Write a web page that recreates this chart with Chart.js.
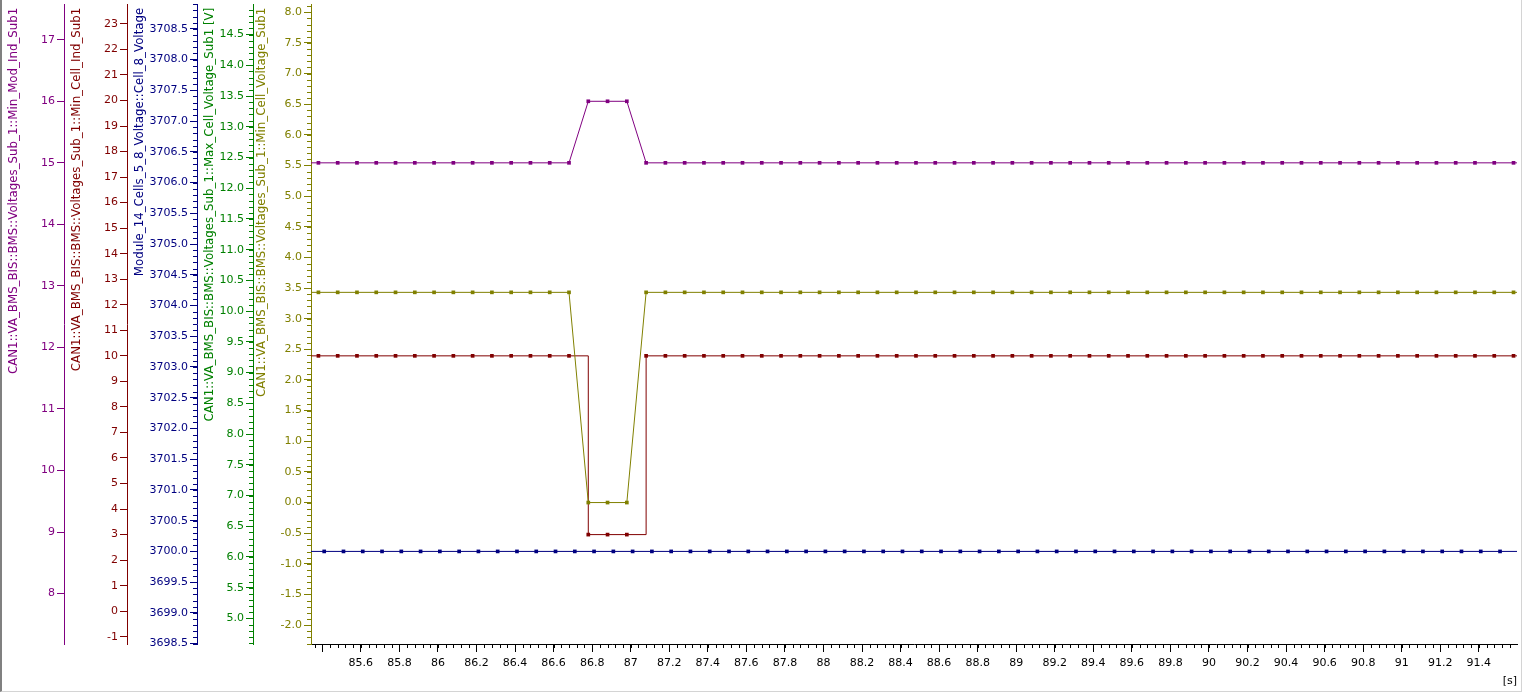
<!DOCTYPE html>
<html lang="en">
<head>
    <meta charset="UTF-8">
    <title>CAN1 BMS Voltages Sub 1</title>
    <script src="https://cdn.jsdelivr.net/npm/chart.js"></script>
    <style>
        body {
            margin: 0;
            background: #fff;
        }
        #frame {
            position: absolute;
            left: 0;
            top: 0;
            width: 1519px;
            height: 691px;
            border-left: 2px solid #808080;
            border-right: 1px solid #d4d4d4;
            border-bottom: 1px solid #d4d4d4;
        }
        canvas {
            display: block;
        }
    </style>
</head>
<body>
    <div id="frame"><canvas id="signalChart" width="1519" height="691"></canvas></div>

    <script>
        // sample times [s] of the Sub_1 signals
        const timeSub1 = [85.28, 85.38, 85.48, 85.58, 85.68, 85.78, 85.88, 85.98, 86.08, 86.18,
                          86.28, 86.38, 86.48, 86.58, 86.68, 86.78, 86.88, 86.98, 87.08, 87.18,
                          87.28, 87.38, 87.48, 87.58, 87.68, 87.78, 87.88, 87.98, 88.08, 88.18,
                          88.28, 88.38, 88.48, 88.58, 88.68, 88.78, 88.88, 88.98, 89.08, 89.18,
                          89.28, 89.38, 89.48, 89.58, 89.68, 89.78, 89.88, 89.98, 90.08, 90.18,
                          90.28, 90.38, 90.48, 90.58, 90.68, 90.78, 90.88, 90.98, 91.08, 91.18,
                          91.28, 91.38, 91.48, 91.58, 91.68];

        // sample times [s] of the module 14 cell signal
        const timeCell8 = [85.31, 85.41, 85.51, 85.61, 85.71, 85.81, 85.91, 86.01, 86.11, 86.21,
                           86.31, 86.41, 86.51, 86.61, 86.71, 86.81, 86.91, 87.01, 87.11, 87.21,
                           87.31, 87.41, 87.51, 87.61, 87.71, 87.81, 87.91, 88.01, 88.11, 88.21,
                           88.31, 88.41, 88.51, 88.61, 88.71, 88.81, 88.91, 89.01, 89.11, 89.21,
                           89.31, 89.41, 89.51, 89.61, 89.71, 89.81, 89.91, 90.01, 90.11, 90.21,
                           90.31, 90.41, 90.51, 90.61, 90.71, 90.81, 90.91, 91.01, 91.11, 91.21,
                           91.31, 91.41, 91.51, 91.61];

        const minModInd = [15, 15, 15, 15, 15, 15, 15, 15, 15, 15,
                           15, 15, 15, 15, 15, 16, 16, 16, 15, 15,
                           15, 15, 15, 15, 15, 15, 15, 15, 15, 15,
                           15, 15, 15, 15, 15, 15, 15, 15, 15, 15,
                           15, 15, 15, 15, 15, 15, 15, 15, 15, 15,
                           15, 15, 15, 15, 15, 15, 15, 15, 15, 15,
                           15, 15, 15, 15, 15];

        const minCellInd = [10, 10, 10, 10, 10, 10, 10, 10, 10, 10,
                            10, 10, 10, 10, 10, 3, 3, 3, 10, 10,
                            10, 10, 10, 10, 10, 10, 10, 10, 10, 10,
                            10, 10, 10, 10, 10, 10, 10, 10, 10, 10,
                            10, 10, 10, 10, 10, 10, 10, 10, 10, 10,
                            10, 10, 10, 10, 10, 10, 10, 10, 10, 10,
                            10, 10, 10, 10, 10];

        const cell8Voltage = [3700, 3700, 3700, 3700, 3700, 3700, 3700, 3700, 3700, 3700,
                              3700, 3700, 3700, 3700, 3700, 3700, 3700, 3700, 3700, 3700,
                              3700, 3700, 3700, 3700, 3700, 3700, 3700, 3700, 3700, 3700,
                              3700, 3700, 3700, 3700, 3700, 3700, 3700, 3700, 3700, 3700,
                              3700, 3700, 3700, 3700, 3700, 3700, 3700, 3700, 3700, 3700,
                              3700, 3700, 3700, 3700, 3700, 3700, 3700, 3700, 3700, 3700,
                              3700, 3700, 3700, 3700];

        // below the visible range of its axis
        const maxCellVoltage = [3.44, 3.44, 3.44, 3.44, 3.44, 3.44, 3.44, 3.44, 3.44, 3.44,
                                3.44, 3.44, 3.44, 3.44, 3.44, 3.44, 3.44, 3.44, 3.44, 3.44,
                                3.44, 3.44, 3.44, 3.44, 3.44, 3.44, 3.44, 3.44, 3.44, 3.44,
                                3.44, 3.44, 3.44, 3.44, 3.44, 3.44, 3.44, 3.44, 3.44, 3.44,
                                3.44, 3.44, 3.44, 3.44, 3.44, 3.44, 3.44, 3.44, 3.44, 3.44,
                                3.44, 3.44, 3.44, 3.44, 3.44, 3.44, 3.44, 3.44, 3.44, 3.44,
                                3.44, 3.44, 3.44, 3.44, 3.44];

        const minCellVoltage = [3.43, 3.43, 3.43, 3.43, 3.43, 3.43, 3.43, 3.43, 3.43, 3.43,
                                3.43, 3.43, 3.43, 3.43, 3.43, 0, 0, 0, 3.43, 3.43,
                                3.43, 3.43, 3.43, 3.43, 3.43, 3.43, 3.43, 3.43, 3.43, 3.43,
                                3.43, 3.43, 3.43, 3.43, 3.43, 3.43, 3.43, 3.43, 3.43, 3.43,
                                3.43, 3.43, 3.43, 3.43, 3.43, 3.43, 3.43, 3.43, 3.43, 3.43,
                                3.43, 3.43, 3.43, 3.43, 3.43, 3.43, 3.43, 3.43, 3.43, 3.43,
                                3.43, 3.43, 3.43, 3.43, 3.43];

        const PURPLE = '#800080', MAROON = '#800000', NAVY = '#000080', GREEN = '#008000', OLIVE = '#808000';

        Chart.defaults.font.family = 'DejaVu Sans';
        Chart.defaults.font.size = 11;

        function yAxis(o) {
            return {
                type: 'linear',
                position: 'left',
                weight: o.weight,
                min: o.min,
                max: o.max,
                grid: { drawOnChartArea: false, drawTicks: true, tickLength: 7, tickColor: o.color },
                border: { display: true, color: o.color, width: 1 },
                ticks: {
                    stepSize: o.step,
                    color: o.color,
                    padding: 2,
                    autoSkip: false,
                    includeBounds: false,
                    callback: v => v.toFixed(o.decimals)
                },
                title: {
                    display: true,
                    text: o.title + ' ',   // keeps the title a few px below the top edge
                    color: o.color,
                    align: 'end',
                    font: { size: 11.8 },
                    padding: { top: o.titlePad, bottom: 0 }
                },
                afterFit(s) {
                    s.width = o.width;
                    s.paddingTop = 0;
                    s.paddingBottom = 0;
                }
            };
        }

        // small ticks between the labelled ones
        const minorTicks = [
            ['x', 0.04, 4],
            ['yCell8', 0.1, 4],
            ['yMaxV', 0.1, 4],
            ['yMinV', 0.1, 4]
        ];

        const minorTickPlugin = {
            id: 'minorTicks',
            afterDraw(chart) {
                const ctx = chart.ctx;
                minorTicks.forEach(([id, step, len]) => {
                    const s = chart.scales[id];
                    ctx.save();
                    ctx.strokeStyle = s.options.border.color;
                    ctx.lineWidth = 1;
                    ctx.beginPath();
                    const first = Math.ceil(s.min / step - 1e-6);
                    const last = Math.floor(s.max / step + 1e-6);
                    for (let i = first; i <= last; i++) {
                        const p = Math.round(s.getPixelForValue(i * step)) + 0.5;
                        if (s.isHorizontal()) {
                            ctx.moveTo(p, s.top);
                            ctx.lineTo(p, s.top + len);
                        } else {
                            ctx.moveTo(s.right - len, p);
                            ctx.lineTo(s.right, p);
                        }
                    }
                    ctx.stroke();
                    ctx.restore();
                });
            }
        };

        function series(label, times, values, color, axis, stepped) {
            return {
                label: label,
                data: times.map((t, i) => ({ x: t, y: values[i] })),
                yAxisID: axis,
                borderColor: color,
                backgroundColor: color,
                borderWidth: 1,
                stepped: stepped,
                tension: 0,
                pointStyle: 'rect',
                pointRadius: 2.6,
                pointBorderWidth: 0,
                pointBackgroundColor: color
            };
        }

        const ctx = document.getElementById('signalChart').getContext('2d');
        const signalChart = new Chart(ctx, {
            type: 'line',
            data: {
                datasets: [
                    series('Cell_8_Voltage', timeCell8, cell8Voltage, NAVY, 'yCell8', false),
                    series('Max_Cell_Voltage_Sub1', timeSub1, maxCellVoltage, GREEN, 'yMaxV', false),
                    series('Min_Cell_Voltage_Sub1', timeSub1, minCellVoltage, OLIVE, 'yMinV', false),
                    series('Min_Cell_Ind_Sub1', timeSub1, minCellInd, MAROON, 'yCellInd', true),
                    series('Min_Mod_Ind_Sub1', timeSub1, minModInd, PURPLE, 'yModInd', false)
                ]
            },
            options: {
                responsive: false,
                animation: false,
                events: [],
                layout: { padding: 0 },
                plugins: {
                    legend: { display: false },
                    tooltip: { enabled: false }
                },
                scales: {
                    x: {
                        type: 'linear',
                        position: 'bottom',
                        min: 85.3415,
                        max: 91.598,
                        grid: { drawOnChartArea: false, drawTicks: true, tickLength: 8, tickColor: '#000' },
                        border: { display: true, color: '#000', width: 1 },
                        ticks: {
                            stepSize: 0.2,
                            color: '#000',
                            padding: 5,
                            autoSkip: false,
                            maxRotation: 0,
                            includeBounds: false,
                            callback: v => (v < 85.5 ? '' : String(parseFloat(v.toFixed(2))))
                        },
                        title: { display: true, text: '[s]', color: '#000', align: 'end', padding: { top: 0, bottom: 3 } },
                        afterFit(s) {
                            s.height = 47;
                            s.paddingLeft = 0;
                            s.paddingRight = 0;
                        }
                    },
                    yModInd: yAxis({ weight: 5, color: PURPLE, min: 7.181, max: 17.581, step: 1, decimals: 0, width: 62, titlePad: 4.5,
                                     title: 'CAN1::VA_BMS_BIS::BMS::Voltages_Sub_1::Min_Mod_Ind_Sub1' }),
                    yCellInd: yAxis({ weight: 4, color: MAROON, min: -1.284, max: 23.778, step: 1, decimals: 0, width: 63, titlePad: 5.5,
                                      title: 'CAN1::VA_BMS_BIS::BMS::Voltages_Sub_1::Min_Cell_Ind_Sub1' }),
                    yCell8: yAxis({ weight: 3, color: NAVY, min: 3698.494, max: 3708.904, step: 0.5, decimals: 1, width: 70, titlePad: 5.5,
                                    title: 'Module_14_Cells_5_8_Voltage::Cell_8_Voltage' }),
                    yMaxV: yAxis({ weight: 2, color: GREEN, min: 4.584, max: 14.998, step: 0.5, decimals: 1, width: 56, titlePad: 5.5,
                                   title: 'CAN1::VA_BMS_BIS::BMS::Voltages_Sub_1::Max_Cell_Voltage_Sub1 [V]' }),
                    yMinV: yAxis({ weight: 1, color: OLIVE, min: -2.308, max: 8.135, step: 0.5, decimals: 1, width: 58, titlePad: 1.5,
                                   title: 'CAN1::VA_BMS_BIS::BMS::Voltages_Sub_1::Min_Cell_Voltage_Sub1' })
                }
            },
            plugins: [minorTickPlugin]
        });
    </script>
</body>
</html>
